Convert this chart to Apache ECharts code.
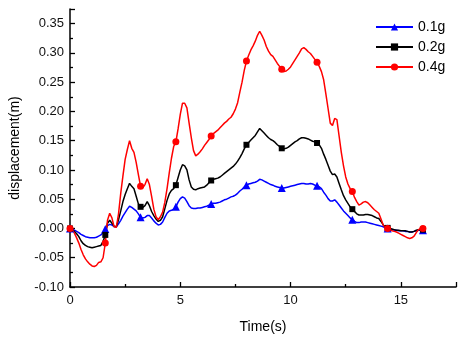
<!DOCTYPE html>
<html>
<head>
<meta charset="utf-8">
<script src="https://cdn.jsdelivr.net/npm/echarts@6/dist/echarts.min.js"></script>
<style>
  html, body { margin: 0; padding: 0; background: #fff; }
  #chart { width: 474px; height: 341px; }
</style>
</head>
<body>
<div id="chart"></div>
<script>
// Sampling: one displacement value every 0.1 s, starting at t = 0
const TIME_STEP = 0.1;
// A marker is drawn on every 16th sample (every 1.6 s)
const MARKER_EVERY = 16;

const seriesNames = ['0.1g', '0.2g', '0.4g'];

// Displacement (m), PGA 0.1g
const disp01g = [
  0, -0.001, -0.003, -0.005, -0.007, -0.010, -0.012, -0.014, -0.015, -0.016,
  -0.016, -0.016, -0.015, -0.013, -0.011, -0.007, -0.001, 0.005, 0.007, 0.006,
  0.003, 0.003, 0.008, 0.014, 0.021, 0.027, 0.033, 0.038, 0.036, 0.033,
  0.030, 0.025, 0.019, 0.018, 0.019, 0.022, 0.022, 0.018, 0.013, 0.009,
  0.006, 0.007, 0.011, 0.019, 0.026, 0.030, 0.031, 0.033, 0.037, 0.045,
  0.051, 0.054, 0.052, 0.046, 0.039, 0.035, 0.034, 0.034, 0.035, 0.035,
  0.036, 0.037, 0.038, 0.040, 0.042, 0.043, 0.043, 0.044, 0.045, 0.047,
  0.049, 0.050, 0.052, 0.054, 0.055, 0.057, 0.060, 0.064, 0.067, 0.071,
  0.074, 0.076, 0.077, 0.078, 0.079, 0.081, 0.084, 0.083, 0.081, 0.079,
  0.077, 0.075, 0.074, 0.072, 0.071, 0.070, 0.069, 0.069, 0.070, 0.071,
  0.072, 0.073, 0.074, 0.075, 0.076, 0.077, 0.077, 0.076, 0.076, 0.077,
  0.076, 0.074, 0.073, 0.071, 0.068, 0.062, 0.057, 0.051, 0.047, 0.047,
  0.049, 0.045, 0.040, 0.035, 0.030, 0.026, 0.022, 0.018, 0.015, 0.012,
  0.010, 0.010, 0.011, 0.011, 0.011, 0.010, 0.009, 0.008, 0.007, 0.006,
  0.005, 0.004, 0.003, 0.001, 0.000, -0.001, -0.002, -0.003, -0.003, -0.004,
  -0.004, -0.004, -0.005, -0.005, -0.006, -0.006, -0.005, -0.004, -0.003, -0.003,
  -0.003
];

// Displacement (m), PGA 0.2g
const disp02g = [
  0, -0.002, -0.005, -0.009, -0.014, -0.021, -0.026, -0.029, -0.031, -0.032,
  -0.033, -0.032, -0.031, -0.030, -0.029, -0.022, -0.011, 0.009, 0.014, 0.009,
  0.004, 0.003, 0.015, 0.030, 0.046, 0.058, 0.068, 0.077, 0.072, 0.068,
  0.055, 0.042, 0.037, 0.036, 0.039, 0.046, 0.039, 0.029, 0.022, 0.016,
  0.012, 0.014, 0.020, 0.034, 0.048, 0.059, 0.065, 0.068, 0.074, 0.087,
  0.100, 0.109, 0.107, 0.100, 0.083, 0.071, 0.067, 0.066, 0.068, 0.069,
  0.070, 0.071, 0.074, 0.078, 0.082, 0.084, 0.085, 0.086, 0.088, 0.091,
  0.094, 0.097, 0.100, 0.103, 0.106, 0.110, 0.115, 0.121, 0.128, 0.136,
  0.143, 0.147, 0.151, 0.155, 0.159, 0.165, 0.171, 0.167, 0.163, 0.159,
  0.155, 0.152, 0.150, 0.147, 0.143, 0.140, 0.137, 0.136, 0.137, 0.139,
  0.142, 0.145, 0.148, 0.150, 0.153, 0.155, 0.155, 0.154, 0.153, 0.151,
  0.149, 0.148, 0.146, 0.143, 0.137, 0.127, 0.118, 0.108, 0.098, 0.092,
  0.093, 0.088, 0.077, 0.066, 0.056, 0.049, 0.043, 0.037, 0.033, 0.029,
  0.025, 0.023, 0.023, 0.023, 0.024, 0.024, 0.023, 0.022, 0.020, 0.018,
  0.017, 0.012, 0.006, 0.003, 0.001, 0.000, -0.001, -0.002, -0.003, -0.003,
  -0.004, -0.004, -0.004, -0.005, -0.006, -0.006, -0.005, -0.003, -0.002, -0.002,
  -0.002
];

// Displacement (m), PGA 0.4g
const disp04g = [
  0, -0.002, -0.008, -0.016, -0.025, -0.036, -0.045, -0.052, -0.057, -0.061,
  -0.064, -0.065, -0.063, -0.058, -0.057, -0.050, -0.025, 0.014, 0.026, 0.018,
  0.003, 0.002, 0.025, 0.060, 0.090, 0.118, 0.135, 0.150, 0.137, 0.130,
  0.113, 0.092, 0.072, 0.070, 0.075, 0.085, 0.075, 0.055, 0.033, 0.020,
  0.015, 0.020, 0.028, 0.045, 0.068, 0.095, 0.120, 0.140, 0.148, 0.170,
  0.195, 0.214, 0.214, 0.206, 0.180, 0.155, 0.133, 0.124, 0.127, 0.131,
  0.136, 0.142, 0.147, 0.152, 0.158, 0.162, 0.165, 0.168, 0.172, 0.176,
  0.180, 0.183, 0.187, 0.190, 0.196, 0.204, 0.215, 0.233, 0.250, 0.270,
  0.286, 0.296, 0.305, 0.312, 0.320, 0.330, 0.337, 0.330, 0.322, 0.311,
  0.303, 0.297, 0.294, 0.288, 0.282, 0.277, 0.272, 0.268, 0.269, 0.272,
  0.276, 0.282, 0.288, 0.294, 0.300, 0.307, 0.309, 0.306, 0.302, 0.299,
  0.294, 0.289, 0.284, 0.277, 0.268, 0.254, 0.230, 0.205, 0.180, 0.176,
  0.188, 0.186, 0.158, 0.130, 0.107, 0.088, 0.076, 0.068, 0.063, 0.053,
  0.046, 0.040, 0.042, 0.045, 0.046, 0.044, 0.040, 0.036, 0.032, 0.029,
  0.026, 0.016, 0.006, 0.001, 0.000, -0.002, -0.004, -0.005, -0.006, -0.008,
  -0.010, -0.012, -0.014, -0.016, -0.017, -0.016, -0.013, -0.007, -0.002, 0.000,
  0.000
];

// Axis ranges and tick spacing
const X_MIN = 0, X_MAX = 17.5, X_MAJOR = 5;
const Y_MIN = -0.1, Y_MAX = 0.375, Y_MAJOR = 0.05;

const FONT = '"Liberation Sans", Arial, sans-serif';

function toPoints(values) {
  return values.map(function (v, i) {
    const t = +(i * TIME_STEP).toFixed(1);
    return i % MARKER_EVERY === 0 ? [t, v] : { value: [t, v], symbol: 'none' };
  });
}

function lineSeries(name, values, color, symbol, size) {
  return {
    type: 'line',
    name: name,
    data: toPoints(values),
    symbol: symbol,
    symbolSize: size,
    showSymbol: true,
    showAllSymbol: true,
    lineStyle: { color: color, width: 1.5 },
    itemStyle: { color: color, borderWidth: 0 },
    emphasis: { disabled: true },
    animation: false
  };
}

const chart = echarts.init(document.getElementById('chart'), null, { renderer: 'canvas' });

const tickLine = { color: '#000', width: 1.3 };

chart.setOption({
  backgroundColor: '#fff',
  animation: false,
  textStyle: { fontFamily: FONT },
  grid: { left: 67, right: 18, top: 9, bottom: 54 },
  legend: {
    orient: 'vertical',
    left: 370,
    top: 15,
    padding: 5,
    itemWidth: 37,
    itemHeight: 9,
    itemGap: 6,
    data: seriesNames,
    textStyle: { fontFamily: FONT, fontSize: 14, color: '#000', lineHeight: 13 }
  },
  xAxis: {
    type: 'value', min: X_MIN, max: X_MAX, interval: X_MAJOR,
    axisLine: { show: true, onZero: false, lineStyle: { color: '#000', width: 1.5 } },
    splitLine: { show: false },
    name: 'Time(s)', nameLocation: 'middle', nameGap: 33,
    nameTextStyle: { fontFamily: FONT, fontSize: 14, color: '#000' },
    axisTick: { show: true, inside: true, length: 5, lineStyle: tickLine },
    minorTick: { show: true, splitNumber: 2, length: 3, lineStyle: tickLine },
    axisLabel: { show: true, margin: 7, fontFamily: FONT, fontSize: 13, color: '#111', showMaxLabel: false }
  },
  yAxis: {
    type: 'value', min: Y_MIN, max: Y_MAX, interval: Y_MAJOR,
    axisLine: { show: true, onZero: false, lineStyle: { color: '#000', width: 1.5 } },
    splitLine: { show: false },
    name: 'displacement(m)', nameLocation: 'middle', nameGap: 48,
    nameTextStyle: { fontFamily: FONT, fontSize: 14, color: '#000' },
    axisTick: { show: true, inside: true, length: 5, lineStyle: tickLine },
    minorTick: { show: true, splitNumber: 2, length: 3, lineStyle: tickLine },
    axisLabel: {
      show: true, margin: 6, fontFamily: FONT, fontSize: 13, color: '#111', showMaxLabel: false,
      formatter: function (v) { return v.toFixed(2); }
    }
  },
  series: [
    lineSeries(seriesNames[0], disp01g, '#0000ff', 'triangle', 8),
    lineSeries(seriesNames[1], disp02g, '#000000', 'rect', 6),
    lineSeries(seriesNames[2], disp04g, '#ff0000', 'circle', 7)
  ]
});
</script>
</body>
</html>
